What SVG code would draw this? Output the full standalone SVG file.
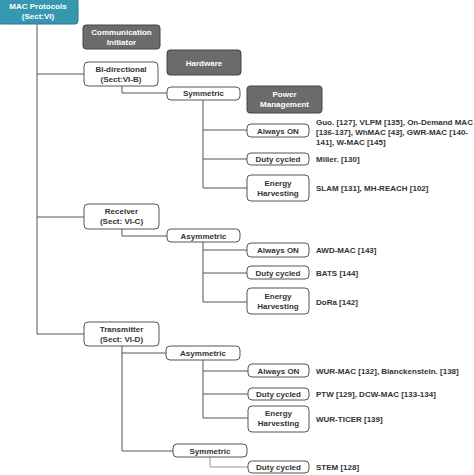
<svg xmlns="http://www.w3.org/2000/svg" width="474" height="475" viewBox="0 0 474 475">
<style>
text{font-family:"Liberation Sans",Arial,sans-serif;font-weight:bold;font-size:8px;fill:#333;}
.c{text-anchor:middle;}
.w{fill:#fff;}
.box{fill:#fff;stroke:#555;stroke-width:1;}
.dark{fill:#6b6b6b;stroke:#444;stroke-width:1;}
.teal{fill:#3597b0;stroke:#2a7489;stroke-width:1;}
.ln{fill:none;stroke:#555;stroke-width:1;}
.lt{fill:none;stroke:#999;stroke-width:1;}
</style>
<rect width="474" height="475" fill="#fff"/>
<g id="connectors">
<path class="ln" d="M37 24V334H84M37 74H84M37 217H84"/>
<path class="ln" d="M122 86V93H167M203 100V188H247M203 130H247M203 159H247"/>
<path class="ln" d="M122 229V236H167M203 242V302H247M203 250H247M203 273H247"/>
<path class="ln" d="M122 346V451H173M122 353H166M203 360V418H248M203 371H248M203 394H248"/>
<path class="lt" d="M210 457V467H248"/>
</g>
<g id="mac"><rect class="teal" x="-2" y="-2" width="80" height="26" rx="3"/><text class="c w" x="38" y="9">MAC Protocols</text><text class="c w" x="38" y="19">(Sect:VI)</text></g>
<g id="comm"><rect class="dark" x="83" y="25" width="77" height="24" rx="3"/><text class="c w" x="121.500" y="35">Communication</text><text class="c w" x="121.500" y="45">Initiator</text></g>
<g id="hardware"><rect class="dark" x="167" y="50" width="74" height="25" rx="3"/><text class="c w" x="204" y="65.500">Hardware</text></g>
<g id="powermgmt"><rect class="dark" x="247" y="86" width="75" height="27" rx="3"/><text class="c w" x="284.500" y="97">Power</text><text class="c w" x="284.500" y="107">Management</text></g>
<g id="bidir"><rect class="box" x="84" y="62" width="74" height="24" rx="4"/><text class="c" x="121" y="72">Bi-directional</text><text class="c" x="121" y="82">(Sect:VI-B)</text></g>
<g id="bi-sym"><rect class="box" x="167" y="87" width="73" height="13" rx="4"/><text class="c" x="203.500" y="96">Symmetric</text></g>
<g id="bi-on"><rect class="box" x="247" y="124" width="62" height="13" rx="4"/><text class="c" x="278" y="133.500">Always ON</text></g>
<g id="bi-on-t"><text x="316" y="125">Guo. [127], VLPM [135], On-Demand MAC</text><text x="316" y="135">[136-137], WhMAC [43], GWR-MAC [140-</text><text x="316" y="145">141], W-MAC [145]</text></g>
<g id="bi-dc"><rect class="box" x="247" y="153" width="62" height="12" rx="4"/><text class="c" x="278" y="162">Duty cycled</text><text x="316" y="162">Miller. [130]</text></g>
<g id="bi-eh"><rect class="box" x="247" y="175" width="62" height="26" rx="4"/><text class="c" x="278" y="185.500">Energy</text><text class="c" x="278" y="195.500">Harvesting</text><text x="316" y="191">SLAM [131], MH-REACH [102]</text></g>
<g id="receiver"><rect class="box" x="84" y="204" width="75" height="25" rx="4"/><text class="c" x="121.500" y="214">Receiver</text><text class="c" x="121.500" y="224">(Sect: VI-C)</text></g>
<g id="rx-asym"><rect class="box" x="167" y="229" width="73" height="13" rx="4"/><text class="c" x="203.500" y="238.500">Asymmetric</text></g>
<g id="rx-on"><rect class="box" x="247" y="243" width="62" height="14" rx="4"/><text class="c" x="278" y="253">Always ON</text><text x="316" y="253">AWD-MAC [143]</text></g>
<g id="rx-dc"><rect class="box" x="247" y="266" width="62" height="13" rx="4"/><text class="c" x="278" y="275.500">Duty cycled</text><text x="316" y="275.500">BATS [144]</text></g>
<g id="rx-eh"><rect class="box" x="247" y="288" width="62" height="26" rx="4"/><text class="c" x="278" y="298.500">Energy</text><text class="c" x="278" y="308.500">Harvesting</text><text x="316" y="304.500">DoRa [142]</text></g>
<g id="transmitter"><rect class="box" x="84" y="322" width="75" height="24" rx="4"/><text class="c" x="121.500" y="332">Transmitter</text><text class="c" x="121.500" y="342">(Sect: VI-D)</text></g>
<g id="tx-asym"><rect class="box" x="166" y="346" width="74" height="14" rx="4"/><text class="c" x="203" y="356">Asymmetric</text></g>
<g id="tx-on"><rect class="box" x="248" y="364" width="61" height="13" rx="4"/><text class="c" x="278.500" y="373.500">Always ON</text><text x="316" y="373.500">WUR-MAC [132], Blanckenstein. [138]</text></g>
<g id="tx-dc"><rect class="box" x="248" y="388" width="61" height="12" rx="4"/><text class="c" x="278.500" y="397">Duty cycled</text><text x="316" y="397">PTW [129], DCW-MAC [133-134]</text></g>
<g id="tx-eh"><rect class="box" x="248" y="406" width="61" height="26" rx="4"/><text class="c" x="278.500" y="416">Energy</text><text class="c" x="278.500" y="426">Harvesting</text><text x="316" y="421.500">WUR-TICER [139]</text></g>
<g id="tx-sym"><rect class="box" x="173" y="444" width="74" height="13" rx="4"/><text class="c" x="210" y="453.500">Symmetric</text></g>
<g id="tx-dc2"><rect class="box" x="248" y="461" width="61" height="12" rx="4"/><text class="c" x="278.500" y="470">Duty cycled</text><text x="316" y="470">STEM [128]</text></g>
</svg>
